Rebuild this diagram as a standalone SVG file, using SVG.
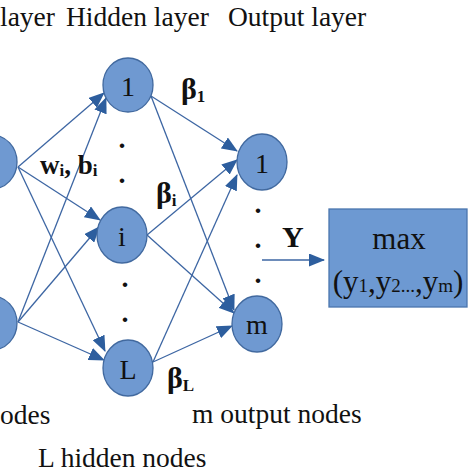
<svg xmlns="http://www.w3.org/2000/svg" width="474" height="474" viewBox="0 0 474 474">
<style>
  text { font-family: "Liberation Serif", "Times New Roman", serif; fill: #111; }
  .t { font-size: 27.5px; }
  .nl { font-size: 28px; text-anchor: middle; }
  .b { font-size: 27px; font-weight: bold; }
  .g { font-size: 30px; font-weight: bold; }
  .sub { font-size: 17px; font-weight: bold; }
  .dot { font-size: 28px; font-weight: bold; text-anchor: middle; }
  .node { fill: #6f99d1; stroke: #41699f; stroke-width: 1.3; }
  .edge { fill: none; stroke: #3d66a3; stroke-width: 1.3; marker-end: url(#arr); }
</style>
<defs>
  <marker id="arr" markerUnits="userSpaceOnUse" markerWidth="16" markerHeight="13" refX="15" refY="6.5" orient="auto">
    <path d="M0,0 L16,6.5 L0,13 z" fill="#2d5e9e"/>
  </marker>
</defs>
<rect width="474" height="474" fill="#ffffff"/>

<g id="titles">
  <text class="t" x="0" y="26">layer</text>
  <text class="t" x="66" y="26">Hidden layer</text>
  <text class="t" x="228" y="26">Output layer</text>
  <text class="t" x="0" y="424">odes</text>
  <text class="t" x="192" y="423">m output nodes</text>
  <text class="t" x="38" y="467">L hidden nodes</text>
</g>

<g id="connectors">
  <line class="edge" x1="18" y1="167" x2="104" y2="93"/>
  <line class="edge" x1="18" y1="167" x2="100" y2="220"/>
  <line class="edge" x1="18" y1="167" x2="105" y2="351"/>
  <line class="edge" x1="18" y1="322" x2="106" y2="98"/>
  <line class="edge" x1="18" y1="322" x2="99" y2="227"/>
  <line class="edge" x1="18" y1="322" x2="104" y2="360"/>
  <line class="edge" x1="151" y1="96" x2="237" y2="151"/>
  <line class="edge" x1="151" y1="96" x2="234" y2="310"/>
  <line class="edge" x1="147" y1="235" x2="237" y2="160"/>
  <line class="edge" x1="147" y1="235" x2="234" y2="313"/>
  <line class="edge" x1="153" y1="362" x2="237" y2="175"/>
  <line class="edge" x1="153" y1="362" x2="232" y2="326"/>
  <line class="edge" x1="262" y1="260" x2="324" y2="260"/>
</g>

<g id="input-top"><ellipse class="node" cx="-8" cy="162" rx="25" ry="27"/></g>
<g id="input-bottom"><ellipse class="node" cx="-8" cy="323" rx="25" ry="27"/></g>

<g id="hidden-1"><ellipse class="node" cx="128" cy="85" rx="25" ry="27"/><text class="nl" x="128" y="96">1</text></g>
<g id="hidden-i"><ellipse class="node" cx="122" cy="235" rx="25" ry="28"/><text class="nl" x="122" y="246">i</text></g>
<g id="hidden-L"><ellipse class="node" cx="128" cy="368" rx="25" ry="28"/><text class="nl" x="128" y="379">L</text></g>

<g id="output-1"><ellipse class="node" cx="262" cy="162" rx="25" ry="28"/><text class="nl" x="262" y="173">1</text></g>
<g id="output-m"><ellipse class="node" cx="257" cy="324" rx="25" ry="28"/><text class="nl" x="257" y="334">m</text></g>

<g id="max-box">
  <rect x="329" y="209" width="138" height="98" fill="#6d99d2" stroke="#4a76ae" stroke-width="1.3"/>
  <text x="399" y="249" style="font-size:31px" text-anchor="middle">max</text>
  <text x="398" y="292" style="font-size:31px" text-anchor="middle">(y<tspan style="font-size:19px">1</tspan>,y<tspan style="font-size:19px">2...</tspan>,y<tspan style="font-size:19px">m</tspan>)</text>
</g>

<g id="labels">
  <text class="g" x="181" y="99">β<tspan class="sub" dy="3">1</tspan></text>
  <text class="b" x="40" y="174">w<tspan class="sub" dy="2">i</tspan><tspan dy="-2">, b</tspan><tspan class="sub" dy="2">i</tspan></text>
  <text class="g" x="156" y="203">β<tspan class="sub" dy="3">i</tspan></text>
  <text class="g" x="167" y="388">β<tspan class="sub" dy="3">L</tspan></text>
  <text class="g" x="282" y="247">Y</text>
</g>

<g id="dots">
  <text class="dot" x="122" y="148">.</text>
  <text class="dot" x="122" y="183">.</text>
  <text class="dot" x="125" y="287">.</text>
  <text class="dot" x="125" y="322">.</text>
  <text class="dot" x="258" y="213">.</text>
  <text class="dot" x="258" y="248">.</text>
  <text class="dot" x="258" y="283">.</text>
</g>
</svg>
